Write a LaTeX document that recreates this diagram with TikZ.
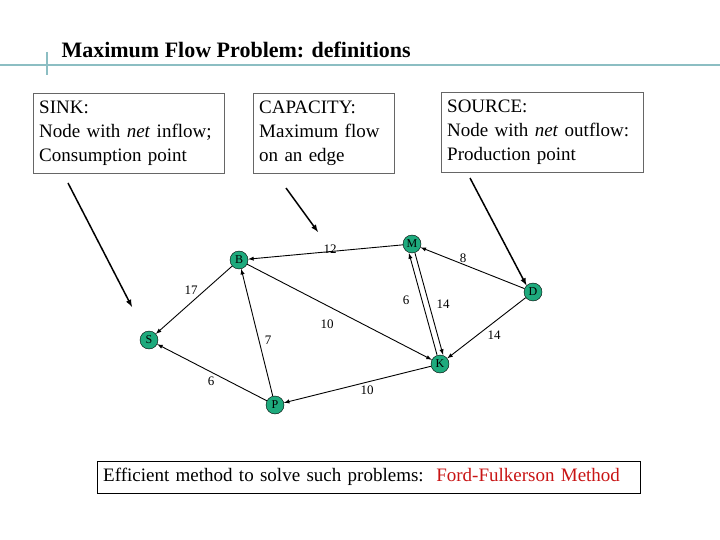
\documentclass[tikz,border=0pt]{standalone}
\usepackage{fontspec}
\setmainfont{Liberation Serif}
\usetikzlibrary{arrows}
\definecolor{rule}{RGB}{140,190,195}
\definecolor{vert}{RGB}{30,170,125}
\definecolor{fordred}{RGB}{200,20,20}
\tikzset{
  vtx/.style={circle,draw,fill=vert,inner sep=0pt,minimum size=18pt,font=\fontsize{12}{12}\selectfont},
  box/.style={draw,gray!80!black,text=black,anchor=north west,align=left,inner sep=6pt,font=\fontsize{19}{24}\selectfont},
  wt/.style={font=\fontsize{13}{13}\selectfont},
  edge/.style={-latex, line width=0.9pt}
}
\begin{document}
\begin{tikzpicture}[x=1pt,y=-1pt]
\useasboundingbox (0,0) rectangle (720,540);

\draw [rule, line width=2pt] (0,65) -- (720,65);
\draw [rule, line width=1.5pt] (47,52) -- (47,75);
\node [anchor=west, font=\fontsize{22}{22}\bfseries\selectfont] (title) at (58,50) {Maximum Flow Problem: definitions};

\node [box, text width=179pt, minimum height=80pt] (sink) at (33,93) {SINK:\\Node with \textit{net} inflow;\\Consumption point};
\node [box, text width=129pt, minimum height=80pt] (cap) at (253,93) {CAPACITY:\\Maximum flow\\on an edge};
\node [box, text width=190pt, minimum height=80pt] (src) at (441,92) {SOURCE:\\Node with \textit{net} outflow:\\Production point};

\node [vtx] (B) at (239,260) {B};
\node [vtx] (M) at (412,244) {M};
\node [vtx] (D) at (533,292) {D};
\node [vtx] (S) at (149,340) {S};
\node [vtx] (K) at (440,364) {K};
\node [vtx] (P) at (275,405) {P};

\coordinate (c1) at (68,183);
\coordinate (c2) at (286,188);
\coordinate (c3) at (470,178);
\draw [-latex, line width=1.5pt] (c1) -- (132,307);
\draw [-latex, line width=1.5pt] (c2) -- (318,232);
\draw [-latex, line width=1.5pt] (c3) -- (D.north west);

\draw [edge] (M) -- (B);
\draw [edge] (D) -- (M);
\draw [edge] (B) -- (S);
\draw [edge] (P) -- (B);
\draw [edge] (B) -- (K);
\draw [edge] ([xshift=-3pt]K.north) -- ([xshift=-3pt]M.south);
\draw [edge] ([xshift=3pt]M.south) -- ([xshift=3pt]K.north);
\draw [edge] (D) -- (K);
\draw [edge] (P) -- (S);
\draw [edge] (K) -- (P);

\node [wt] at (330,249) {12};
\node [wt] at (463,258) {8};
\node [wt] at (191,290) {17};
\node [wt] at (268,340) {7};
\node [wt] at (327,324) {10};
\node [wt] at (406,300) {6};
\node [wt] at (443,304) {14};
\node [wt] at (494,335) {14};
\node [wt] at (211,381) {6};
\node [wt] at (367,390) {10};

\node [draw, anchor=north west, inner sep=6pt, minimum height=32pt, text width=531pt, align=left, font=\fontsize{19}{20}\selectfont] (meth) at (97,461)
  {Efficient method to solve such problems:\ \ \textcolor{fordred}{Ford-Fulkerson Method}};

\end{tikzpicture}
\end{document}
